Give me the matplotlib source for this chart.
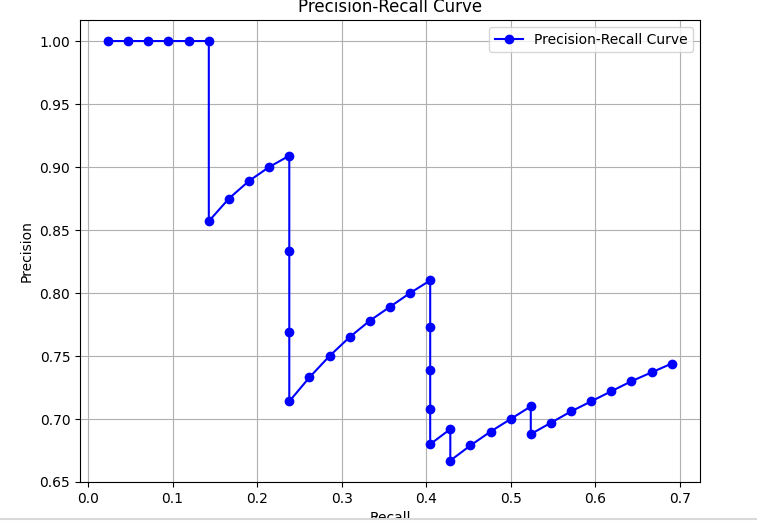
import matplotlib
matplotlib.use("Agg")
import matplotlib.pyplot as plt
from matplotlib.patches import Rectangle
from matplotlib.lines import Line2D

# recall / precision pairs
recall = [0.0238, 0.0476, 0.0714, 0.0952, 0.1190, 0.1429,
          0.1429, 0.1667, 0.1905, 0.2143, 0.2381,
          0.2381, 0.2381, 0.2381,
          0.2619, 0.2857, 0.3095, 0.3333, 0.3571, 0.3810, 0.4048,
          0.4048, 0.4048, 0.4048, 0.4048,
          0.4286, 0.4286,
          0.4524, 0.4762, 0.5000, 0.5238,
          0.5238,
          0.5476, 0.5714, 0.5952, 0.6190, 0.6429, 0.6667, 0.6905]
precision = [1.000, 1.000, 1.000, 1.000, 1.000, 1.000,
             0.857, 0.875, 0.889, 0.900, 0.909,
             0.833, 0.769, 0.714,
             0.733, 0.750, 0.765, 0.778, 0.789, 0.800, 0.810,
             0.773, 0.739, 0.708, 0.680,
             0.692, 0.667,
             0.679, 0.690, 0.700, 0.710,
             0.688,
             0.697, 0.706, 0.714, 0.722, 0.730, 0.737, 0.744]

W, H = 757, 525
fig = plt.figure(figsize=(W / 100, H / 100), dpi=100)
ax = fig.add_axes([80 / W, 1 - 482 / H, 620 / W, 462 / H])

ax.plot(recall, precision, marker='o', color='blue', label='Precision-Recall Curve')
ax.set_xlabel('Recall')
ax.set_ylabel('Precision')
ax.set_title('Precision-Recall Curve')
ax.set_ylim(0.65, 1.0167)
ax.set_xlim(-0.0095, 0.724)
ax.grid(True)
ax.legend(loc='upper right')

# screenshot edge: grey rule near the bottom with blank strip under it
fig.patches.append(Rectangle((0, 0), 1, 6 / H, transform=fig.transFigure,
                             facecolor='white', edgecolor='none', zorder=10))
fig.lines.append(Line2D([0, 1], [6 / H, 6 / H], transform=fig.transFigure,
                        color='#d9d9d9', linewidth=1.5, zorder=11))

fig.savefig('out.png', dpi=100)
